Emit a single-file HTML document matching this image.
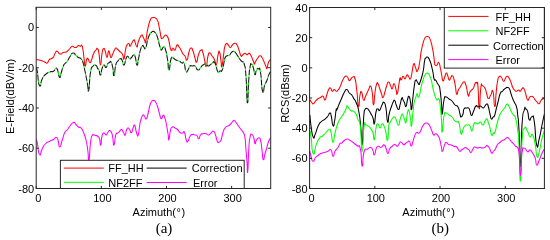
<!DOCTYPE html>
<html><head><meta charset="utf-8"><style>
html,body{margin:0;padding:0;background:#fff;width:550px;height:240px;overflow:hidden}
svg{display:block}
.ax{stroke:#262626;stroke-width:1;fill:none}
.t{font-family:"Liberation Sans",Arial,sans-serif;font-size:11px;fill:#000}
.cap{font-family:"Liberation Serif","Times New Roman",serif;font-size:15px;fill:#000}
</style></head><body>
<svg width="550" height="240" viewBox="0 0 550 240">
<path d="M36.20,59.50 C37.80,59.83 38.15,59.67 41.00,60.50 C43.85,61.33 42.67,61.17 44.75,62.00 C46.83,62.83 45.83,63.67 47.25,63.00 C48.67,62.33 47.75,61.42 49.00,60.00 C50.25,58.58 49.67,59.58 51.00,58.75 C52.33,57.92 52.00,58.42 53.00,57.50 C54.00,56.58 53.17,57.67 54.00,56.00 C54.83,54.33 54.40,54.10 55.50,52.50 C56.60,50.90 56.13,50.90 57.30,51.20 C58.47,51.50 57.77,52.47 59.00,53.40 C60.23,54.33 59.67,54.27 61.00,54.00 C62.33,53.73 61.33,53.27 63.00,52.60 C64.67,51.93 64.58,52.45 66.00,52.00 C67.42,51.55 66.00,52.33 67.25,51.25 C68.50,50.17 68.08,50.42 69.75,48.75 C71.42,47.08 70.58,46.67 72.25,46.25 C73.92,45.83 73.25,47.25 74.75,47.50 C76.25,47.75 75.50,47.67 76.75,47.00 C78.00,46.33 77.25,45.75 78.50,45.50 C79.75,45.25 79.42,46.25 80.50,46.25 C81.58,46.25 80.92,44.25 81.75,45.50 C82.58,46.75 82.17,45.17 83.00,50.00 C83.83,54.83 83.50,54.58 84.25,60.00 C85.00,65.42 84.50,66.25 85.25,66.25 C86.00,66.25 85.58,62.50 86.50,60.00 C87.42,57.50 86.92,57.92 88.00,58.75 C89.08,59.58 88.58,62.08 89.75,62.50 C90.92,62.92 90.25,62.92 91.50,60.00 C92.75,57.08 92.00,57.08 93.50,53.75 C95.00,50.42 94.67,51.67 96.00,50.00 C97.33,48.33 96.50,47.50 97.50,48.75 C98.50,50.00 98.00,48.33 99.00,53.75 C100.00,59.17 99.50,65.00 100.50,65.00 C101.50,65.00 101.00,59.17 102.00,53.75 C103.00,48.33 102.42,49.58 103.50,48.75 C104.58,47.92 104.08,48.33 105.25,51.25 C106.42,54.17 105.92,57.50 107.00,57.50 C108.08,57.50 107.58,52.50 108.50,51.25 C109.42,50.00 108.92,51.67 109.75,53.75 C110.58,55.83 110.00,57.50 111.00,57.50 C112.00,57.50 111.58,56.25 112.75,53.75 C113.92,51.25 113.42,51.92 114.50,50.00 C115.58,48.08 114.92,48.17 116.00,48.00 C117.08,47.83 116.58,48.42 117.75,49.50 C118.92,50.58 118.42,50.25 119.50,51.25 C120.58,52.25 119.92,51.25 121.00,52.50 C122.08,53.75 121.75,52.92 122.75,55.00 C123.75,57.08 123.08,60.42 124.00,58.75 C124.92,57.08 124.50,54.58 125.50,50.00 C126.50,45.42 125.83,47.08 127.00,45.00 C128.17,42.92 128.00,43.33 129.00,43.75 C130.00,44.17 129.03,46.47 130.00,46.25 C130.97,46.03 130.65,45.18 131.90,43.10 C133.15,41.02 132.72,40.40 133.75,40.00 C134.78,39.60 133.95,39.60 135.00,41.90 C136.05,44.20 135.87,46.70 136.90,46.90 C137.93,47.10 137.07,45.63 138.10,42.50 C139.13,39.37 138.73,40.00 140.00,37.50 C141.27,35.00 140.87,35.20 141.90,35.00 C142.93,34.80 142.15,35.03 143.10,36.90 C144.05,38.77 143.92,38.93 144.75,40.60 C145.58,42.27 144.88,44.18 145.60,41.90 C146.32,39.62 146.07,38.55 146.90,33.75 C147.73,28.95 147.27,31.25 148.10,27.50 C148.93,23.75 148.57,25.17 149.40,22.50 C150.23,19.83 149.98,20.97 150.60,19.50 C151.22,18.03 150.28,18.77 151.25,18.10 C152.22,17.43 152.05,17.50 153.50,17.50 C154.95,17.50 154.27,17.07 155.60,18.10 C156.93,19.13 156.45,18.30 157.50,20.60 C158.55,22.90 157.92,21.45 158.75,25.00 C159.58,28.55 159.25,27.25 160.00,31.25 C160.75,35.25 160.37,34.58 161.00,37.00 C161.63,39.42 160.98,38.53 161.90,38.50 C162.82,38.47 162.52,38.07 163.75,36.90 C164.98,35.73 164.35,35.00 165.60,35.00 C166.85,35.00 166.45,35.23 167.50,36.90 C168.55,38.57 167.58,35.63 168.75,40.00 C169.92,44.37 169.58,47.33 171.00,50.00 C172.42,52.67 171.67,48.00 173.00,48.00 C174.33,48.00 173.67,51.00 175.00,50.00 C176.33,49.00 175.67,46.00 177.00,45.00 C178.33,44.00 177.67,45.33 179.00,47.00 C180.33,48.67 179.67,47.67 181.00,50.00 C182.33,52.33 181.67,52.00 183.00,54.00 C184.33,56.00 183.67,54.00 185.00,56.00 C186.33,58.00 185.67,61.33 187.00,60.00 C188.33,58.67 187.67,56.00 189.00,52.00 C190.33,48.00 189.67,48.33 191.00,48.00 C192.33,47.67 191.67,47.67 193.00,51.00 C194.33,54.33 193.80,54.33 195.00,58.00 C196.20,61.67 195.47,63.00 196.60,62.00 C197.73,61.00 196.93,59.00 198.40,55.00 C199.87,51.00 199.47,50.67 201.00,50.00 C202.53,49.33 201.67,49.00 203.00,53.00 C204.33,57.00 203.87,57.67 205.00,62.00 C206.13,66.33 205.40,68.00 206.40,66.00 C207.40,64.00 206.80,60.33 208.00,56.00 C209.20,51.67 208.67,53.00 210.00,53.00 C211.33,53.00 210.53,53.87 212.00,56.00 C213.47,58.13 212.97,56.40 214.40,59.40 C215.83,62.40 215.07,66.57 216.30,65.00 C217.53,63.43 217.00,58.95 218.10,54.70 C219.20,50.45 218.63,50.07 219.60,52.25 C220.57,54.43 220.23,56.67 221.00,61.25 C221.77,65.83 220.98,68.50 221.90,66.00 C222.82,63.50 222.88,59.75 223.75,53.75 C224.62,47.75 223.68,51.33 224.50,48.00 C225.32,44.67 224.95,44.75 226.20,43.75 C227.45,42.75 226.88,43.75 228.25,45.00 C229.62,46.25 228.92,47.50 230.30,47.50 C231.68,47.50 230.83,46.40 232.40,45.00 C233.97,43.60 233.47,43.30 235.00,43.30 C236.53,43.30 235.67,42.77 237.00,45.00 C238.33,47.23 237.67,46.40 239.00,50.00 C240.33,53.60 239.73,54.20 241.00,55.80 C242.27,57.40 241.47,55.63 242.80,54.80 C244.13,53.97 243.60,53.30 245.00,53.30 C246.40,53.30 245.67,54.80 247.00,54.80 C248.33,54.80 247.67,52.97 249.00,53.30 C250.33,53.63 249.58,53.23 251.00,55.80 C252.42,58.37 252.08,58.27 253.25,61.00 C254.42,63.73 253.82,63.67 254.50,64.00 C255.18,64.33 254.20,64.00 255.30,62.00 C256.40,60.00 256.23,60.07 257.80,58.00 C259.37,55.93 258.60,55.97 260.00,55.80 C261.40,55.63 260.77,55.77 262.00,57.50 C263.23,59.23 262.45,58.17 263.70,61.00 C264.95,63.83 264.65,63.57 265.75,66.00 C266.85,68.43 266.17,69.30 267.00,68.30 C267.83,67.30 267.25,65.77 268.25,63.00 C269.25,60.23 269.18,61.33 270.00,60.00 C270.82,58.67 270.47,59.33 270.70,59.00" fill="none" stroke="#ff0000" stroke-width="1.05" stroke-linejoin="round"/>
<path d="M36.20,68.75 C36.55,69.58 36.15,65.67 37.25,71.25 C38.35,76.83 37.83,83.00 39.50,85.50 C41.17,88.00 40.25,82.42 42.25,78.75 C44.25,75.08 43.00,76.75 45.50,74.50 C48.00,72.25 47.08,73.10 49.75,72.00 C52.42,70.90 51.58,72.33 53.50,71.20 C55.42,70.07 54.33,69.37 55.50,68.60 C56.67,67.83 56.08,67.60 57.00,68.90 C57.92,70.20 57.38,69.63 58.25,72.50 C59.12,75.37 58.68,77.17 59.60,77.50 C60.52,77.83 59.87,77.00 61.00,73.50 C62.13,70.00 61.75,70.25 63.00,67.00 C64.25,63.75 63.33,65.67 64.75,63.75 C66.17,61.83 65.58,63.50 67.25,61.25 C68.92,59.00 67.83,59.75 69.75,57.00 C71.67,54.25 70.92,53.50 73.00,53.00 C75.08,52.50 74.17,54.00 76.00,55.50 C77.83,57.00 76.83,56.42 78.50,57.50 C80.17,58.58 79.50,57.08 81.00,58.75 C82.50,60.42 81.75,58.75 83.00,62.50 C84.25,66.25 83.33,63.33 84.75,70.00 C86.17,76.67 85.92,75.83 87.25,82.50 C88.58,89.17 87.67,93.33 88.75,90.00 C89.83,86.67 89.08,80.42 90.50,72.50 C91.92,64.58 91.17,68.58 93.00,66.25 C94.83,63.92 94.42,64.67 96.00,65.50 C97.58,66.33 96.75,67.25 97.75,68.75 C98.75,70.25 98.08,67.92 99.00,70.00 C99.92,72.08 99.50,75.42 100.50,75.00 C101.50,74.58 100.83,72.08 102.00,68.75 C103.17,65.42 102.67,65.42 104.00,65.00 C105.33,64.58 104.75,67.92 106.00,67.50 C107.25,67.08 106.58,65.42 107.75,63.75 C108.92,62.08 108.42,63.08 109.50,62.50 C110.58,61.92 109.92,60.33 111.00,62.00 C112.08,63.67 111.75,63.00 112.75,67.50 C113.75,72.00 113.00,76.33 114.00,75.50 C115.00,74.67 114.50,69.75 115.75,65.00 C117.00,60.25 116.25,63.33 117.75,61.25 C119.25,59.17 118.83,59.17 120.25,58.75 C121.67,58.33 120.75,57.92 122.00,60.00 C123.25,62.08 122.67,65.42 124.00,65.00 C125.33,64.58 124.75,61.67 126.00,58.75 C127.25,55.83 126.58,56.25 127.75,56.25 C128.92,56.25 128.25,58.33 129.50,58.75 C130.75,59.17 130.17,58.75 131.50,57.50 C132.83,56.25 132.25,55.17 133.50,55.00 C134.75,54.83 134.08,53.67 135.25,57.00 C136.42,60.33 135.92,64.42 137.00,65.00 C138.08,65.58 137.30,63.95 138.50,58.75 C139.70,53.55 139.27,53.78 140.60,49.40 C141.93,45.02 141.45,46.43 142.50,45.60 C143.55,44.77 142.72,46.07 143.75,46.90 C144.78,47.73 144.35,50.20 145.60,48.10 C146.85,46.00 146.23,44.97 147.50,40.60 C148.77,36.23 148.15,37.70 149.40,35.00 C150.65,32.30 150.02,33.70 151.25,32.50 C152.48,31.30 151.85,31.40 153.10,31.40 C154.35,31.40 153.73,31.10 155.00,32.50 C156.27,33.90 155.73,32.68 156.90,35.60 C158.07,38.52 157.67,38.12 158.50,41.25 C159.33,44.38 158.73,42.75 159.40,45.00 C160.07,47.25 159.77,46.33 160.50,48.00 C161.23,49.67 160.57,50.33 161.60,50.00 C162.63,49.67 162.27,47.00 163.60,47.00 C164.93,47.00 164.27,45.67 165.60,50.00 C166.93,54.33 166.47,53.33 167.60,60.00 C168.73,66.67 167.87,70.33 169.00,70.00 C170.13,69.67 169.67,63.00 171.00,59.00 C172.33,55.00 171.33,57.67 173.00,58.00 C174.67,58.33 174.00,59.00 176.00,60.00 C178.00,61.00 177.00,60.00 179.00,61.00 C181.00,62.00 180.33,62.33 182.00,63.00 C183.67,63.67 182.67,60.33 184.00,63.00 C185.33,65.67 184.67,68.67 186.00,71.00 C187.33,73.33 186.67,71.67 188.00,70.00 C189.33,68.33 188.53,67.33 190.00,66.00 C191.47,64.67 190.73,66.00 192.40,66.00 C194.07,66.00 193.13,64.67 195.00,66.00 C196.87,67.33 196.00,69.67 198.00,70.00 C200.00,70.33 199.33,68.67 201.00,67.00 C202.67,65.33 201.33,66.00 203.00,65.00 C204.67,64.00 204.33,63.67 206.00,64.00 C207.67,64.33 206.67,65.67 208.00,66.00 C209.33,66.33 208.53,66.00 210.00,65.00 C211.47,64.00 210.93,64.00 212.40,63.00 C213.87,62.00 213.20,61.00 214.40,62.00 C215.60,63.00 214.80,62.67 216.00,66.00 C217.20,69.33 216.67,70.33 218.00,72.00 C219.33,73.67 218.67,71.53 220.00,71.00 C221.33,70.47 220.77,72.73 222.00,70.40 C223.23,68.07 222.70,68.13 223.70,64.00 C224.70,59.87 223.83,60.73 225.00,58.00 C226.17,55.27 225.77,56.67 227.20,55.80 C228.63,54.93 227.90,56.43 229.30,55.40 C230.70,54.37 230.00,54.08 231.40,52.70 C232.80,51.32 232.13,51.25 233.50,51.25 C234.87,51.25 234.13,51.18 235.50,52.70 C236.87,54.22 236.20,53.70 237.60,55.80 C239.00,57.90 238.30,57.10 239.70,59.00 C241.10,60.90 240.30,59.83 241.80,61.50 C243.30,63.17 242.80,58.93 244.20,64.00 C245.60,69.07 244.93,63.80 246.00,76.70 C247.07,89.60 246.50,101.33 247.40,102.70 C248.30,104.07 247.83,92.60 248.70,80.80 C249.57,69.00 249.03,72.83 250.00,67.30 C250.97,61.77 250.52,64.20 251.60,64.20 C252.68,64.20 252.12,63.83 253.25,67.30 C254.38,70.77 253.95,73.57 255.00,74.60 C256.05,75.63 255.23,72.35 256.40,70.40 C257.57,68.45 257.13,68.05 258.50,68.75 C259.87,69.45 259.13,65.00 260.50,72.50 C261.87,80.00 261.20,87.08 262.60,91.25 C264.00,95.42 263.30,88.48 264.70,85.00 C266.10,81.52 265.40,84.27 266.80,80.80 C268.20,77.33 267.60,77.70 268.90,74.60 C270.20,71.50 270.10,72.53 270.70,71.50" fill="none" stroke="#00ff00" stroke-width="1.05" stroke-linejoin="round" stroke-dasharray="2.60,4.90" stroke-dashoffset="2.30"/>
<path d="M36.20,68.75 C36.55,69.58 36.15,65.67 37.25,71.25 C38.35,76.83 37.83,83.00 39.50,85.50 C41.17,88.00 40.25,82.42 42.25,78.75 C44.25,75.08 43.00,76.75 45.50,74.50 C48.00,72.25 47.08,73.10 49.75,72.00 C52.42,70.90 51.58,72.33 53.50,71.20 C55.42,70.07 54.33,69.37 55.50,68.60 C56.67,67.83 56.08,67.60 57.00,68.90 C57.92,70.20 57.38,69.63 58.25,72.50 C59.12,75.37 58.68,77.17 59.60,77.50 C60.52,77.83 59.87,77.00 61.00,73.50 C62.13,70.00 61.75,70.25 63.00,67.00 C64.25,63.75 63.33,65.67 64.75,63.75 C66.17,61.83 65.58,63.50 67.25,61.25 C68.92,59.00 67.83,59.75 69.75,57.00 C71.67,54.25 70.92,53.50 73.00,53.00 C75.08,52.50 74.17,54.00 76.00,55.50 C77.83,57.00 76.83,56.42 78.50,57.50 C80.17,58.58 79.50,57.08 81.00,58.75 C82.50,60.42 81.75,58.75 83.00,62.50 C84.25,66.25 83.33,63.33 84.75,70.00 C86.17,76.67 85.92,75.83 87.25,82.50 C88.58,89.17 87.67,93.33 88.75,90.00 C89.83,86.67 89.08,80.42 90.50,72.50 C91.92,64.58 91.17,68.58 93.00,66.25 C94.83,63.92 94.42,64.67 96.00,65.50 C97.58,66.33 96.75,67.25 97.75,68.75 C98.75,70.25 98.08,67.92 99.00,70.00 C99.92,72.08 99.50,75.42 100.50,75.00 C101.50,74.58 100.83,72.08 102.00,68.75 C103.17,65.42 102.67,65.42 104.00,65.00 C105.33,64.58 104.75,67.92 106.00,67.50 C107.25,67.08 106.58,65.42 107.75,63.75 C108.92,62.08 108.42,63.08 109.50,62.50 C110.58,61.92 109.92,60.33 111.00,62.00 C112.08,63.67 111.75,63.00 112.75,67.50 C113.75,72.00 113.00,76.33 114.00,75.50 C115.00,74.67 114.50,69.75 115.75,65.00 C117.00,60.25 116.25,63.33 117.75,61.25 C119.25,59.17 118.83,59.17 120.25,58.75 C121.67,58.33 120.75,57.92 122.00,60.00 C123.25,62.08 122.67,65.42 124.00,65.00 C125.33,64.58 124.75,61.67 126.00,58.75 C127.25,55.83 126.58,56.25 127.75,56.25 C128.92,56.25 128.25,58.33 129.50,58.75 C130.75,59.17 130.17,58.75 131.50,57.50 C132.83,56.25 132.25,55.17 133.50,55.00 C134.75,54.83 134.08,53.67 135.25,57.00 C136.42,60.33 135.92,64.42 137.00,65.00 C138.08,65.58 137.30,63.95 138.50,58.75 C139.70,53.55 139.27,53.78 140.60,49.40 C141.93,45.02 141.45,46.43 142.50,45.60 C143.55,44.77 142.72,46.07 143.75,46.90 C144.78,47.73 144.35,50.20 145.60,48.10 C146.85,46.00 146.23,44.97 147.50,40.60 C148.77,36.23 148.15,37.70 149.40,35.00 C150.65,32.30 150.02,33.70 151.25,32.50 C152.48,31.30 151.85,31.40 153.10,31.40 C154.35,31.40 153.73,31.10 155.00,32.50 C156.27,33.90 155.73,32.68 156.90,35.60 C158.07,38.52 157.67,38.12 158.50,41.25 C159.33,44.38 158.73,42.75 159.40,45.00 C160.07,47.25 159.77,46.33 160.50,48.00 C161.23,49.67 160.57,50.33 161.60,50.00 C162.63,49.67 162.27,47.00 163.60,47.00 C164.93,47.00 164.27,45.67 165.60,50.00 C166.93,54.33 166.47,53.33 167.60,60.00 C168.73,66.67 167.87,70.33 169.00,70.00 C170.13,69.67 169.67,63.00 171.00,59.00 C172.33,55.00 171.33,57.67 173.00,58.00 C174.67,58.33 174.00,59.00 176.00,60.00 C178.00,61.00 177.00,60.00 179.00,61.00 C181.00,62.00 180.33,62.33 182.00,63.00 C183.67,63.67 182.67,60.33 184.00,63.00 C185.33,65.67 184.67,68.67 186.00,71.00 C187.33,73.33 186.67,71.67 188.00,70.00 C189.33,68.33 188.53,67.33 190.00,66.00 C191.47,64.67 190.73,66.00 192.40,66.00 C194.07,66.00 193.13,64.67 195.00,66.00 C196.87,67.33 196.00,69.67 198.00,70.00 C200.00,70.33 199.33,68.67 201.00,67.00 C202.67,65.33 201.33,66.00 203.00,65.00 C204.67,64.00 204.33,63.67 206.00,64.00 C207.67,64.33 206.67,65.67 208.00,66.00 C209.33,66.33 208.53,66.00 210.00,65.00 C211.47,64.00 210.93,64.00 212.40,63.00 C213.87,62.00 213.20,61.00 214.40,62.00 C215.60,63.00 214.80,62.67 216.00,66.00 C217.20,69.33 216.67,70.33 218.00,72.00 C219.33,73.67 218.67,71.53 220.00,71.00 C221.33,70.47 220.77,72.73 222.00,70.40 C223.23,68.07 222.70,68.13 223.70,64.00 C224.70,59.87 223.83,60.73 225.00,58.00 C226.17,55.27 225.77,56.67 227.20,55.80 C228.63,54.93 227.90,56.43 229.30,55.40 C230.70,54.37 230.00,54.08 231.40,52.70 C232.80,51.32 232.13,51.25 233.50,51.25 C234.87,51.25 234.13,51.18 235.50,52.70 C236.87,54.22 236.20,53.70 237.60,55.80 C239.00,57.90 238.30,57.10 239.70,59.00 C241.10,60.90 240.30,59.83 241.80,61.50 C243.30,63.17 242.80,58.93 244.20,64.00 C245.60,69.07 244.93,63.80 246.00,76.70 C247.07,89.60 246.50,101.33 247.40,102.70 C248.30,104.07 247.83,92.60 248.70,80.80 C249.57,69.00 249.03,72.83 250.00,67.30 C250.97,61.77 250.52,64.20 251.60,64.20 C252.68,64.20 252.12,63.83 253.25,67.30 C254.38,70.77 253.95,73.57 255.00,74.60 C256.05,75.63 255.23,72.35 256.40,70.40 C257.57,68.45 257.13,68.05 258.50,68.75 C259.87,69.45 259.13,65.00 260.50,72.50 C261.87,80.00 261.20,87.08 262.60,91.25 C264.00,95.42 263.30,88.48 264.70,85.00 C266.10,81.52 265.40,84.27 266.80,80.80 C268.20,77.33 267.60,77.70 268.90,74.60 C270.20,71.50 270.10,72.53 270.70,71.50" fill="none" stroke="#1a1a1a" stroke-width="1.1" stroke-linejoin="round" stroke-dasharray="5.5,2.0"/>
<path d="M36.20,140.00 C36.55,140.83 36.15,137.67 37.25,142.50 C38.35,147.33 37.83,152.42 39.50,154.50 C41.17,156.58 40.25,152.33 42.25,148.75 C44.25,145.17 43.00,146.25 45.50,143.75 C48.00,141.25 47.08,142.67 49.75,141.25 C52.42,139.83 51.42,140.75 53.50,139.50 C55.58,138.25 54.50,137.33 56.00,137.50 C57.50,137.67 56.75,136.83 58.00,140.00 C59.25,143.17 58.33,147.00 59.75,147.00 C61.17,147.00 60.58,144.83 62.25,140.00 C63.92,135.17 63.08,135.83 64.75,132.50 C66.42,129.17 65.58,132.08 67.25,130.00 C68.92,127.92 67.67,128.75 69.75,126.25 C71.83,123.75 71.42,123.08 73.50,122.50 C75.58,121.92 74.33,123.00 76.00,124.50 C77.67,126.00 76.83,125.83 78.50,127.00 C80.17,128.17 79.33,126.17 81.00,128.00 C82.67,129.83 81.83,128.50 83.50,132.50 C85.17,136.50 84.58,134.17 86.00,140.00 C87.42,145.83 86.75,143.33 87.75,150.00 C88.75,156.67 88.08,162.50 89.00,160.00 C89.92,157.50 89.42,150.67 90.50,142.50 C91.58,134.33 91.08,138.00 92.25,135.50 C93.42,133.00 92.75,135.00 94.00,135.00 C95.25,135.00 94.75,135.08 96.00,135.50 C97.25,135.92 96.58,135.17 97.75,136.25 C98.92,137.33 98.50,135.83 99.50,138.75 C100.50,141.67 99.92,145.83 100.75,145.00 C101.58,144.17 100.92,140.25 102.00,136.25 C103.08,132.25 102.67,133.42 104.00,133.00 C105.33,132.58 104.75,135.17 106.00,135.00 C107.25,134.83 106.58,134.00 107.75,132.50 C108.92,131.00 108.25,130.50 109.50,130.50 C110.75,130.50 110.42,130.17 111.50,132.50 C112.58,134.83 111.92,133.33 112.75,137.50 C113.58,141.67 113.00,145.83 114.00,145.00 C115.00,144.17 114.50,139.00 115.75,135.00 C117.00,131.00 116.42,134.25 117.75,133.00 C119.08,131.75 118.50,132.42 119.75,131.25 C121.00,130.08 120.25,129.08 121.50,129.50 C122.75,129.92 122.25,130.67 123.50,132.50 C124.75,134.33 124.25,135.83 125.25,135.00 C126.25,134.17 125.50,132.33 126.50,130.00 C127.50,127.67 127.17,128.00 128.25,128.00 C129.33,128.00 128.67,128.50 129.75,130.00 C130.83,131.50 130.33,133.33 131.50,132.50 C132.67,131.67 132.17,129.83 133.25,127.50 C134.33,125.17 133.67,123.83 134.75,125.50 C135.83,127.17 135.33,129.33 136.50,132.50 C137.67,135.67 137.17,137.50 138.25,135.00 C139.33,132.50 138.75,130.42 139.75,125.00 C140.75,119.58 140.17,122.08 141.25,118.75 C142.33,115.42 141.92,115.83 143.00,115.00 C144.08,114.17 143.42,115.00 144.50,116.25 C145.58,117.50 145.08,119.58 146.25,118.75 C147.42,117.92 146.75,118.33 148.00,113.75 C149.25,109.17 148.67,109.17 150.00,105.00 C151.33,100.83 150.75,102.75 152.00,101.25 C153.25,99.75 152.58,100.25 153.75,100.50 C154.92,100.75 154.25,100.08 155.50,102.00 C156.75,103.92 156.17,102.33 157.50,106.25 C158.83,110.17 158.25,109.58 159.50,113.75 C160.75,117.92 160.08,118.17 161.25,118.75 C162.42,119.33 161.92,116.08 163.00,115.50 C164.08,114.92 163.42,114.25 164.50,117.00 C165.58,119.75 165.08,118.17 166.25,123.75 C167.42,129.33 167.08,128.50 168.00,133.75 C168.92,139.00 168.17,140.75 169.00,139.50 C169.83,138.25 169.33,134.17 170.50,130.00 C171.67,125.83 171.00,127.67 172.50,127.00 C174.00,126.33 173.33,127.17 175.00,128.00 C176.67,128.83 175.83,128.00 177.50,129.50 C179.17,131.00 178.33,131.33 180.00,132.50 C181.67,133.67 181.00,133.00 182.50,133.00 C184.00,133.00 183.25,130.17 184.50,132.50 C185.75,134.83 185.08,137.08 186.25,140.00 C187.42,142.92 186.75,142.50 188.00,141.25 C189.25,140.00 188.50,138.50 190.00,136.25 C191.50,134.00 190.83,134.92 192.50,134.50 C194.17,134.08 193.50,134.67 195.00,135.00 C196.50,135.33 195.75,134.25 197.00,135.50 C198.25,136.75 197.58,138.92 198.75,138.75 C199.92,138.58 199.08,136.67 200.50,135.00 C201.92,133.33 201.17,134.17 203.00,133.75 C204.83,133.33 204.17,133.33 206.00,133.75 C207.83,134.17 206.83,135.25 208.50,135.00 C210.17,134.75 209.33,134.25 211.00,133.00 C212.67,131.75 212.00,130.58 213.50,131.25 C215.00,131.92 214.25,131.67 215.50,135.00 C216.75,138.33 216.08,138.92 217.25,141.25 C218.42,143.58 217.75,142.42 219.00,142.00 C220.25,141.58 219.67,143.17 221.00,140.00 C222.33,136.83 221.67,136.50 223.00,132.50 C224.33,128.50 223.58,130.08 225.00,128.00 C226.42,125.92 225.67,127.25 227.25,126.25 C228.83,125.25 228.08,126.42 229.75,125.00 C231.42,123.58 230.83,123.50 232.25,122.00 C233.67,120.50 232.75,120.33 234.00,120.50 C235.25,120.67 234.50,120.67 236.00,122.50 C237.50,124.33 236.83,123.67 238.50,126.00 C240.17,128.33 239.33,127.17 241.00,129.50 C242.67,131.83 242.17,130.17 243.50,133.00 C244.83,135.83 244.17,132.33 245.00,138.00 C245.83,143.67 245.33,142.00 246.00,150.00 C246.67,158.00 246.42,154.92 247.00,162.00 C247.58,169.08 247.17,175.25 247.75,171.25 C248.33,167.25 248.00,161.25 248.75,150.00 C249.50,138.75 248.92,142.67 250.00,137.50 C251.08,132.33 250.67,134.08 252.00,134.50 C253.33,134.92 253.00,135.67 254.00,138.75 C255.00,141.83 254.17,143.33 255.00,143.75 C255.83,144.17 255.17,141.92 256.50,140.00 C257.83,138.08 257.58,137.58 259.00,138.00 C260.42,138.42 259.75,137.25 260.75,141.25 C261.75,145.25 261.17,143.92 262.00,150.00 C262.83,156.08 262.25,158.25 263.25,159.50 C264.25,160.75 263.92,157.33 265.00,153.75 C266.08,150.17 265.42,152.50 266.50,148.75 C267.58,145.00 267.08,145.83 268.25,142.50 C269.42,139.17 269.18,140.25 270.00,138.75 C270.82,137.25 270.47,138.25 270.70,138.00" fill="none" stroke="#ff00ff" stroke-width="1.05" stroke-linejoin="round"/>
<path d="M309.90,99.50 C310.52,100.50 310.55,101.08 311.75,102.50 C312.95,103.92 312.25,104.17 313.50,103.75 C314.75,103.33 314.00,102.92 315.50,101.25 C317.00,99.58 316.33,100.00 318.00,98.75 C319.67,97.50 318.83,98.33 320.50,97.50 C322.17,96.67 321.50,95.42 323.00,96.25 C324.50,97.08 323.75,100.42 325.00,100.00 C326.25,99.58 325.58,98.33 326.75,95.00 C327.92,91.67 327.25,92.33 328.50,90.00 C329.75,87.67 329.25,87.58 330.50,88.00 C331.75,88.42 331.00,90.75 332.25,91.25 C333.50,91.75 332.92,89.50 334.25,89.50 C335.58,89.50 335.00,91.08 336.25,91.25 C337.50,91.42 336.75,91.42 338.00,90.00 C339.25,88.58 338.75,89.50 340.00,87.00 C341.25,84.50 340.58,85.25 341.75,82.50 C342.92,79.75 342.25,80.83 343.50,78.75 C344.75,76.67 344.17,76.83 345.50,76.25 C346.83,75.67 346.25,75.58 347.50,77.00 C348.75,78.42 348.08,79.92 349.25,80.50 C350.42,81.08 349.75,79.92 351.00,78.75 C352.25,77.58 351.67,77.00 353.00,77.00 C354.33,77.00 353.75,74.42 355.00,78.75 C356.25,83.08 355.58,80.83 356.75,90.00 C357.92,99.17 357.42,104.58 358.50,106.25 C359.58,107.92 358.92,99.58 360.00,95.00 C361.08,90.42 360.58,90.83 361.75,92.50 C362.92,94.17 362.25,98.75 363.50,100.00 C364.75,101.25 364.25,98.75 365.50,96.25 C366.75,93.75 366.08,95.00 367.25,92.50 C368.42,90.00 367.92,90.83 369.00,88.75 C370.08,86.67 369.42,85.00 370.50,86.25 C371.58,87.50 371.25,86.25 372.25,92.50 C373.25,98.75 372.58,105.00 373.50,105.00 C374.42,105.00 374.00,99.33 375.00,92.50 C376.00,85.67 375.50,87.42 376.50,84.50 C377.50,81.58 376.92,82.33 378.00,83.75 C379.08,85.17 378.58,85.42 379.75,88.75 C380.92,92.08 380.42,90.83 381.50,93.75 C382.58,96.67 381.92,97.92 383.00,97.50 C384.08,97.08 383.58,96.25 384.75,92.50 C385.92,88.75 385.25,89.75 386.50,86.25 C387.75,82.75 387.17,82.25 388.50,82.00 C389.83,81.75 389.25,83.25 390.50,85.50 C391.75,87.75 391.08,89.33 392.25,88.75 C393.42,88.17 392.75,83.50 394.00,83.75 C395.25,84.00 394.92,86.17 396.00,89.50 C397.08,92.83 396.25,95.67 397.25,93.75 C398.25,91.83 398.08,89.00 399.00,83.75 C399.92,78.50 399.25,79.25 400.00,78.00 C400.75,76.75 400.25,80.58 401.25,80.00 C402.25,79.42 401.75,76.67 403.00,76.25 C404.25,75.83 403.67,79.17 405.00,78.75 C406.33,78.33 405.75,75.58 407.00,75.00 C408.25,74.42 407.58,75.75 408.75,77.00 C409.92,78.25 409.42,80.25 410.50,78.75 C411.58,77.25 410.92,77.42 412.00,72.50 C413.08,67.58 412.58,65.67 413.75,64.00 C414.92,62.33 414.25,65.17 415.50,67.50 C416.75,69.83 416.10,72.83 417.50,71.00 C418.90,69.17 418.57,67.90 419.70,62.00 C420.83,56.10 420.13,58.13 420.90,53.30 C421.67,48.47 421.27,50.90 422.00,47.50 C422.73,44.10 422.23,46.07 423.10,43.10 C423.97,40.13 423.63,40.67 424.60,38.60 C425.57,36.53 425.13,37.60 426.00,36.90 C426.87,36.20 426.37,36.50 427.20,36.50 C428.03,36.50 427.60,36.20 428.50,36.90 C429.40,37.60 428.97,36.53 429.90,38.60 C430.83,40.67 430.50,40.13 431.30,43.10 C432.10,46.07 431.60,44.10 432.30,47.50 C433.00,50.90 432.67,48.47 433.40,53.30 C434.13,58.13 433.93,58.10 434.50,62.00 C435.07,65.90 434.27,64.00 435.10,65.00 C435.93,66.00 435.78,65.83 437.00,65.00 C438.22,64.17 437.58,61.25 438.75,62.50 C439.92,63.75 439.52,64.58 440.50,68.75 C441.48,72.92 440.87,70.98 441.70,75.00 C442.53,79.02 442.00,80.13 443.00,80.80 C444.00,81.47 443.60,79.60 444.70,77.00 C445.80,74.40 445.27,73.33 446.30,73.00 C447.33,72.67 446.83,73.67 447.80,76.00 C448.77,78.33 448.20,79.50 449.20,80.00 C450.20,80.50 449.70,78.90 450.80,77.50 C451.90,76.10 451.37,74.97 452.50,75.80 C453.63,76.63 453.20,76.27 454.20,80.00 C455.20,83.73 454.67,82.27 455.50,87.00 C456.33,91.73 455.77,93.20 456.70,94.20 C457.63,95.20 457.20,92.23 458.30,90.00 C459.40,87.77 458.77,89.50 460.00,87.50 C461.23,85.50 460.60,85.93 462.00,84.00 C463.40,82.07 463.03,81.70 464.20,81.70 C465.37,81.70 464.67,81.80 465.50,84.00 C466.33,86.20 465.77,84.37 466.70,88.30 C467.63,92.23 467.37,94.23 468.30,95.80 C469.23,97.37 468.67,94.67 469.50,93.00 C470.33,91.33 469.53,92.37 470.80,90.80 C472.07,89.23 472.07,90.23 473.30,88.30 C474.53,86.37 473.67,86.93 474.50,85.00 C475.33,83.07 474.97,83.00 475.80,82.50 C476.63,82.00 476.27,82.10 477.00,83.50 C477.73,84.90 477.25,78.28 478.00,86.70 C478.75,95.12 478.32,108.32 479.25,108.75 C480.18,109.18 479.72,95.65 480.80,88.00 C481.88,80.35 481.10,85.70 482.50,85.80 C483.90,85.90 483.67,85.90 485.00,88.30 C486.33,90.70 485.40,89.67 486.50,93.00 C487.60,96.33 486.87,97.63 488.30,98.30 C489.73,98.97 489.23,97.20 490.80,95.00 C492.37,92.80 491.67,87.87 493.00,91.70 C494.33,95.53 493.73,106.40 494.80,106.50 C495.87,106.60 495.30,100.27 496.20,92.00 C497.10,83.73 496.50,86.80 497.50,81.70 C498.50,76.60 497.87,78.10 499.20,76.70 C500.53,75.30 500.07,75.98 501.50,77.50 C502.93,79.02 502.25,80.83 503.50,81.25 C504.75,81.67 504.08,80.42 505.25,78.75 C506.42,77.08 505.75,76.50 507.00,76.25 C508.25,76.00 507.67,75.92 509.00,78.00 C510.33,80.08 509.75,79.33 511.00,82.50 C512.25,85.67 511.58,85.00 512.75,87.50 C513.92,90.00 513.25,88.75 514.50,90.00 C515.75,91.25 515.17,91.25 516.50,91.25 C517.83,91.25 517.25,90.00 518.50,90.00 C519.75,90.00 519.08,91.67 520.25,91.25 C521.42,90.83 520.75,89.58 522.00,88.75 C523.25,87.92 522.67,86.67 524.00,88.75 C525.33,90.83 524.75,91.25 526.00,95.00 C527.25,98.75 526.58,99.17 527.75,100.00 C528.92,100.83 528.25,98.75 529.50,97.50 C530.75,96.25 530.17,96.25 531.50,96.25 C532.83,96.25 532.25,96.25 533.50,97.50 C534.75,98.75 534.08,98.50 535.25,100.00 C536.42,101.50 535.75,100.75 537.00,102.00 C538.25,103.25 537.83,104.00 539.00,103.75 C540.17,103.50 539.50,102.67 540.50,101.25 C541.50,99.83 540.70,100.75 542.00,99.50 C543.30,98.25 543.60,98.17 544.40,97.50" fill="none" stroke="#ff0000" stroke-width="1.05" stroke-linejoin="round"/>
<path d="M309.90,115.00 C310.30,118.90 310.00,119.37 311.10,126.70 C312.20,134.03 311.80,134.57 313.20,137.00 C314.60,139.43 313.57,137.80 315.30,134.00 C317.03,130.20 316.33,129.77 318.40,125.60 C320.47,121.43 319.40,123.57 321.50,121.50 C323.60,119.43 322.60,121.15 324.70,119.40 C326.80,117.65 326.07,118.35 327.80,116.25 C329.53,114.15 328.73,113.10 329.90,113.10 C331.07,113.10 330.27,112.08 331.30,116.25 C332.33,120.42 331.87,124.22 333.00,125.60 C334.13,126.98 333.67,125.60 334.70,120.40 C335.73,115.20 335.42,113.47 336.10,110.00 C336.78,106.53 335.70,112.08 336.75,110.00 C337.80,107.92 337.58,107.75 339.25,103.75 C340.92,99.75 340.08,101.75 341.75,98.00 C343.42,94.25 342.58,95.33 344.25,92.50 C345.92,89.67 345.08,89.33 346.75,89.50 C348.42,89.67 347.58,91.17 349.25,93.00 C350.92,94.83 350.17,93.00 351.75,95.00 C353.33,97.00 352.58,96.57 354.00,99.00 C355.42,101.43 354.33,97.80 356.00,102.30 C357.67,106.80 357.33,103.27 359.00,112.50 C360.67,121.73 359.93,119.30 361.00,130.00 C362.07,140.70 361.43,146.53 362.20,144.60 C362.97,142.67 362.70,134.40 363.30,124.20 C363.90,114.00 363.43,118.90 364.00,114.00 C364.57,109.10 364.00,111.33 365.00,109.50 C366.00,107.67 365.67,108.17 367.00,108.50 C368.33,108.83 367.67,108.67 369.00,110.50 C370.33,112.33 369.67,111.50 371.00,114.00 C372.33,116.50 371.87,114.83 373.00,118.00 C374.13,121.17 373.40,125.50 374.40,123.50 C375.40,121.50 374.80,116.83 376.00,112.00 C377.20,107.17 376.80,109.50 378.00,109.00 C379.20,108.50 378.27,111.83 379.60,110.50 C380.93,109.17 380.53,107.67 382.00,105.00 C383.47,102.33 382.67,101.33 384.00,102.50 C385.33,103.67 384.80,102.00 386.00,108.50 C387.20,115.00 386.52,120.33 387.60,122.00 C388.68,123.67 387.87,118.92 389.25,113.50 C390.63,108.08 390.42,109.58 391.75,105.75 C393.08,101.92 392.25,103.75 393.25,102.00 C394.25,100.25 393.75,99.50 394.75,100.50 C395.75,101.50 395.00,102.00 396.25,105.00 C397.50,108.00 397.25,109.50 398.50,109.50 C399.75,109.50 398.90,108.75 400.00,105.00 C401.10,101.25 400.80,100.00 401.80,98.25 C402.80,96.50 402.10,98.25 403.00,99.75 C403.90,101.25 403.50,100.50 404.50,102.75 C405.50,105.00 405.00,107.50 406.00,106.50 C407.00,105.50 406.50,103.08 407.50,99.75 C408.50,96.42 408.00,95.75 409.00,96.50 C410.00,97.25 409.67,97.67 410.50,102.00 C411.33,106.33 410.75,110.50 411.50,109.50 C412.25,108.50 411.78,107.03 412.75,99.00 C413.72,90.97 413.38,91.67 414.40,85.40 C415.42,79.13 414.77,81.23 415.80,80.20 C416.83,79.17 416.43,80.90 417.50,82.30 C418.57,83.70 418.17,84.40 419.00,84.40 C419.83,84.40 419.10,84.77 420.00,82.30 C420.90,79.83 420.57,81.10 421.70,77.00 C422.83,72.90 422.43,75.40 423.40,70.00 C424.37,64.60 423.77,64.80 424.60,60.80 C425.43,56.80 425.03,59.27 425.90,58.00 C426.77,56.73 426.33,57.00 427.20,57.00 C428.07,57.00 427.60,56.73 428.50,58.00 C429.40,59.27 429.03,58.73 429.90,60.80 C430.77,62.87 430.40,61.80 431.10,64.20 C431.80,66.60 431.37,65.23 432.00,68.00 C432.63,70.77 432.27,68.77 433.00,72.50 C433.73,76.23 433.27,76.63 434.20,79.20 C435.13,81.77 434.77,78.83 435.80,80.20 C436.83,81.57 436.32,81.57 437.30,83.30 C438.28,85.03 437.85,83.30 438.75,85.40 C439.65,87.50 439.08,83.40 440.00,89.60 C440.92,95.80 440.77,95.87 441.50,104.00 C442.23,112.13 441.37,115.33 442.20,114.00 C443.03,112.67 442.73,105.67 444.00,100.00 C445.27,94.33 444.33,97.33 446.00,97.00 C447.67,96.67 447.00,97.67 449.00,99.00 C451.00,100.33 450.00,99.00 452.00,101.00 C454.00,103.00 453.00,103.00 455.00,105.00 C457.00,107.00 456.33,104.00 458.00,107.00 C459.67,110.00 459.00,110.67 460.00,114.00 C461.00,117.33 460.00,117.00 461.00,117.00 C462.00,117.00 462.00,116.67 463.00,114.00 C464.00,111.33 462.67,111.00 464.00,109.00 C465.33,107.00 465.33,108.17 467.00,108.00 C468.67,107.83 468.00,107.50 469.00,108.50 C470.00,109.50 469.13,108.67 470.00,111.00 C470.87,113.33 470.40,115.50 471.60,115.50 C472.80,115.50 472.13,114.17 473.60,111.00 C475.07,107.83 474.53,107.33 476.00,106.00 C477.47,104.67 476.53,107.00 478.00,107.00 C479.47,107.00 478.73,105.67 480.40,106.00 C482.07,106.33 481.47,108.00 483.00,108.00 C484.53,108.00 483.67,107.33 485.00,106.00 C486.33,104.67 485.87,103.67 487.00,104.00 C488.13,104.33 487.40,103.67 488.40,107.00 C489.40,110.33 489.00,110.00 490.00,114.00 C491.00,118.00 490.40,118.00 491.40,119.00 C492.40,120.00 492.00,118.00 493.00,117.00 C494.00,116.00 493.40,118.33 494.40,116.00 C495.40,113.67 494.80,114.67 496.00,110.00 C497.20,105.33 496.58,107.50 498.00,102.00 C499.42,96.50 498.83,97.00 500.25,93.50 C501.67,90.00 501.00,92.83 502.25,91.50 C503.50,90.17 502.75,90.67 504.00,89.50 C505.25,88.33 504.83,88.67 506.00,88.00 C507.17,87.33 506.33,87.17 507.50,87.50 C508.67,87.83 508.33,86.92 509.50,89.00 C510.67,91.08 509.92,90.50 511.00,93.75 C512.08,97.00 511.58,95.83 512.75,98.75 C513.92,101.67 513.25,99.75 514.50,102.50 C515.75,105.25 515.43,102.83 516.50,107.00 C517.57,111.17 516.87,107.33 517.70,115.00 C518.53,122.67 518.07,112.83 519.00,130.00 C519.93,147.17 519.50,168.17 520.50,166.50 C521.50,164.83 520.73,143.83 522.00,125.00 C523.27,106.17 523.07,115.33 524.30,110.00 C525.53,104.67 524.57,108.43 525.70,109.00 C526.83,109.57 526.50,108.03 527.70,111.70 C528.90,115.37 527.87,118.33 529.30,120.00 C530.73,121.67 530.33,116.13 532.00,116.70 C533.67,117.27 532.73,112.27 534.30,121.70 C535.87,131.13 535.03,139.47 536.70,145.00 C538.37,150.53 537.53,144.97 539.30,138.30 C541.07,131.63 540.30,133.10 542.00,125.00 C543.70,116.90 543.60,117.67 544.40,114.00" fill="none" stroke="#000000" stroke-width="1.05" stroke-linejoin="round"/>
<path d="M309.90,130.50 C310.33,133.00 310.10,130.25 311.20,138.00 C312.30,145.75 311.50,151.62 313.20,153.75 C314.90,155.88 314.20,149.62 316.30,144.40 C318.40,139.18 317.40,140.90 319.50,138.10 C321.60,135.30 320.53,137.70 322.60,136.00 C324.67,134.30 323.63,135.07 325.70,133.00 C327.77,130.93 327.07,130.17 328.80,129.80 C330.53,129.43 329.50,127.73 330.90,131.90 C332.30,136.07 331.63,141.93 333.00,142.30 C334.37,142.67 333.27,139.60 335.00,133.00 C336.73,126.40 336.10,127.73 338.20,122.50 C340.30,117.27 339.20,120.80 341.30,117.30 C343.40,113.80 342.77,115.27 344.50,112.00 C346.23,108.73 345.57,109.50 346.50,107.50 C347.43,105.50 346.38,105.50 347.30,106.00 C348.22,106.50 347.85,107.33 349.25,109.00 C350.65,110.67 350.25,110.33 351.50,111.00 C352.75,111.67 351.50,110.00 353.00,111.00 C354.50,112.00 354.33,111.07 356.00,114.00 C357.67,116.93 356.53,115.47 358.00,119.80 C359.47,124.13 359.03,116.27 360.40,127.00 C361.77,137.73 360.90,152.00 362.10,152.00 C363.30,152.00 362.70,136.00 364.00,127.00 C365.30,118.00 364.67,125.33 366.00,125.00 C367.33,124.67 366.83,125.33 368.00,126.00 C369.17,126.67 368.50,126.00 369.50,127.00 C370.50,128.00 369.83,127.00 371.00,129.00 C372.17,131.00 371.87,129.50 373.00,133.00 C374.13,136.50 373.40,141.17 374.40,139.50 C375.40,137.83 374.80,133.17 376.00,128.00 C377.20,122.83 376.67,124.00 378.00,124.00 C379.33,124.00 378.67,128.00 380.00,128.00 C381.33,128.00 380.67,124.67 382.00,124.00 C383.33,123.33 382.80,123.67 384.00,126.00 C385.20,128.33 384.40,126.33 385.60,131.00 C386.80,135.67 386.55,141.67 387.60,140.00 C388.65,138.33 387.87,131.92 388.75,126.00 C389.63,120.08 389.00,124.75 390.25,122.25 C391.50,119.75 391.00,120.25 392.50,118.50 C394.00,116.75 393.50,116.50 394.75,117.00 C396.00,117.50 395.00,117.25 396.25,120.00 C397.50,122.75 397.25,125.25 398.50,125.25 C399.75,125.25 398.90,123.50 400.00,120.00 C401.10,116.50 400.80,116.25 401.80,114.75 C402.80,113.25 402.10,114.00 403.00,115.50 C403.90,117.00 403.50,117.00 404.50,119.25 C405.50,121.50 405.00,124.50 406.00,122.25 C407.00,120.00 406.50,116.25 407.50,112.50 C408.50,108.75 408.00,109.00 409.00,111.00 C410.00,113.00 409.67,113.50 410.50,118.50 C411.33,123.50 410.75,127.50 411.50,126.00 C412.25,124.50 411.83,122.00 412.75,114.00 C413.67,106.00 413.25,107.50 414.25,102.00 C415.25,96.50 414.80,100.25 415.75,97.50 C416.70,94.75 416.32,93.95 417.10,93.75 C417.88,93.55 417.27,96.55 418.10,96.90 C418.93,97.25 418.55,98.27 419.60,94.80 C420.65,91.33 420.02,91.70 421.25,86.50 C422.48,81.30 422.05,83.03 423.30,79.20 C424.55,75.37 423.77,76.98 425.00,75.00 C426.23,73.02 425.67,73.42 427.00,73.25 C428.33,73.08 427.58,72.25 429.00,74.50 C430.42,76.75 430.25,77.07 431.25,80.00 C432.25,82.93 431.17,79.40 432.00,83.30 C432.83,87.20 432.48,86.83 433.75,91.70 C435.02,96.57 434.62,95.13 435.80,97.90 C436.98,100.67 436.32,99.63 437.30,100.00 C438.28,100.37 437.85,97.60 438.75,99.00 C439.65,100.40 439.08,97.20 440.00,104.20 C440.92,111.20 440.77,110.73 441.50,120.00 C442.23,129.27 441.37,133.33 442.20,132.00 C443.03,130.67 442.73,122.33 444.00,116.00 C445.27,109.67 444.33,113.33 446.00,113.00 C447.67,112.67 447.00,113.67 449.00,115.00 C451.00,116.33 450.00,115.00 452.00,117.00 C454.00,119.00 453.33,119.33 455.00,121.00 C456.67,122.67 455.67,121.33 457.00,122.00 C458.33,122.67 457.80,119.67 459.00,123.00 C460.20,126.33 459.60,128.67 460.60,132.00 C461.60,135.33 460.87,134.67 462.00,133.00 C463.13,131.33 462.33,129.67 464.00,127.00 C465.67,124.33 465.00,125.33 467.00,125.00 C469.00,124.67 468.33,124.00 470.00,126.00 C471.67,128.00 470.67,131.67 472.00,131.00 C473.33,130.33 472.67,126.67 474.00,124.00 C475.33,121.33 474.67,123.00 476.00,123.00 C477.33,123.00 476.53,124.33 478.00,124.00 C479.47,123.67 478.73,121.67 480.40,122.00 C482.07,122.33 481.47,125.33 483.00,125.00 C484.53,124.67 483.67,123.00 485.00,121.00 C486.33,119.00 485.87,118.33 487.00,119.00 C488.13,119.67 487.40,120.00 488.40,123.00 C489.40,126.00 488.93,124.00 490.00,128.00 C491.07,132.00 490.47,133.33 491.60,135.00 C492.73,136.67 492.27,134.00 493.40,133.00 C494.53,132.00 493.80,135.00 495.00,132.00 C496.20,129.00 495.67,129.00 497.00,124.00 C498.33,119.00 497.83,120.50 499.00,117.00 C500.17,113.50 499.17,115.83 500.50,113.50 C501.83,111.17 501.42,112.17 503.00,110.00 C504.58,107.83 503.92,109.00 505.25,107.00 C506.58,105.00 505.75,104.25 507.00,104.00 C508.25,103.75 507.67,103.92 509.00,106.25 C510.33,108.58 509.50,108.08 511.00,111.00 C512.50,113.92 512.00,112.67 513.50,115.00 C515.00,117.33 514.10,113.00 515.50,118.00 C516.90,123.00 516.53,121.00 517.70,130.00 C518.87,139.00 518.07,128.00 519.00,145.00 C519.93,162.00 519.50,182.10 520.50,181.00 C521.50,179.90 520.73,159.27 522.00,141.70 C523.27,124.13 522.40,131.63 524.30,128.30 C526.20,124.97 525.80,128.90 527.70,131.70 C529.60,134.50 528.33,135.60 530.00,136.70 C531.67,137.80 530.93,132.23 532.70,135.00 C534.47,137.77 533.87,137.77 535.30,145.00 C536.73,152.23 535.67,154.47 537.00,156.70 C538.33,158.93 537.63,157.83 539.30,151.70 C540.97,145.57 540.30,145.20 542.00,138.30 C543.70,131.40 543.60,133.43 544.40,131.00" fill="none" stroke="#00ff00" stroke-width="1.05" stroke-linejoin="round"/>
<path d="M309.90,151.00 C310.27,152.75 309.97,152.83 311.00,156.25 C312.03,159.67 311.50,160.83 313.00,161.25 C314.50,161.67 313.83,159.42 315.50,157.50 C317.17,155.58 316.33,156.75 318.00,155.50 C319.67,154.25 318.42,154.75 320.50,153.75 C322.58,152.75 321.75,153.33 324.25,152.50 C326.75,151.67 325.75,152.08 328.00,151.25 C330.25,150.42 329.33,148.33 331.00,150.00 C332.67,151.67 331.67,155.83 333.00,156.25 C334.33,156.67 333.33,154.17 335.00,151.25 C336.67,148.33 336.33,150.08 338.00,147.50 C339.67,144.92 338.75,145.00 340.00,143.50 C341.25,142.00 340.28,144.00 341.75,143.00 C343.22,142.00 342.55,141.83 344.40,140.50 C346.25,139.17 345.43,139.00 347.30,139.00 C349.17,139.00 348.27,139.50 350.00,140.50 C351.73,141.50 350.83,140.83 352.50,142.00 C354.17,143.17 353.33,142.67 355.00,144.00 C356.67,145.33 355.70,144.33 357.50,146.00 C359.30,147.67 358.83,142.33 360.40,149.00 C361.97,155.67 361.00,165.00 362.20,166.00 C363.40,167.00 362.17,157.67 364.00,152.00 C365.83,146.33 365.50,150.50 367.70,149.00 C369.90,147.50 368.93,147.17 370.60,147.50 C372.27,147.83 371.43,147.57 372.70,150.00 C373.97,152.43 373.17,155.47 374.40,154.80 C375.63,154.13 375.03,150.85 376.40,148.00 C377.77,145.15 377.13,146.42 378.50,146.25 C379.87,146.08 379.23,147.42 380.50,147.50 C381.77,147.58 381.03,147.33 382.30,146.50 C383.57,145.67 382.97,144.17 384.30,145.00 C385.63,145.83 385.10,146.17 386.30,149.00 C387.50,151.83 386.77,153.58 387.90,153.50 C389.03,153.42 388.25,151.17 389.70,148.75 C391.15,146.33 390.57,147.67 392.25,146.25 C393.93,144.83 393.08,144.50 394.75,144.50 C396.42,144.50 395.83,146.50 397.25,146.25 C398.67,146.00 397.75,145.17 399.00,143.75 C400.25,142.33 399.50,141.75 401.00,142.00 C402.50,142.25 402.00,144.00 403.50,144.50 C405.00,145.00 404.17,144.33 405.50,143.50 C406.83,142.67 406.17,142.67 407.50,142.00 C408.83,141.33 408.25,140.17 409.50,141.50 C410.75,142.83 410.08,146.08 411.25,146.00 C412.42,145.92 411.75,144.92 413.00,141.25 C414.25,137.58 413.67,137.92 415.00,135.00 C416.33,132.08 415.75,133.08 417.00,132.50 C418.25,131.92 417.58,133.67 418.75,133.25 C419.92,132.83 419.25,133.50 420.50,131.25 C421.75,129.00 421.17,129.00 422.50,126.50 C423.83,124.00 423.25,124.92 424.50,123.75 C425.75,122.58 425.08,123.00 426.25,123.00 C427.42,123.00 426.75,122.67 428.00,123.75 C429.25,124.83 428.67,123.75 430.00,126.25 C431.33,128.75 430.75,128.33 432.00,131.25 C433.25,134.17 432.58,134.17 433.75,135.00 C434.92,135.83 434.25,133.75 435.50,133.75 C436.75,133.75 436.17,133.33 437.50,135.00 C438.83,136.67 438.25,135.00 439.50,138.75 C440.75,142.50 440.25,142.08 441.25,146.25 C442.25,150.42 441.42,151.67 442.50,151.25 C443.58,150.83 443.25,147.92 444.50,145.00 C445.75,142.08 444.83,142.67 446.25,142.50 C447.67,142.33 447.08,143.67 448.75,144.50 C450.42,145.33 449.58,144.42 451.25,145.00 C452.92,145.58 452.17,145.75 453.75,146.25 C455.33,146.75 454.58,145.67 456.00,146.50 C457.42,147.33 456.75,147.17 458.00,148.75 C459.25,150.33 458.58,150.83 459.75,151.25 C460.92,151.67 460.25,150.83 461.50,150.00 C462.75,149.17 462.17,149.58 463.50,148.75 C464.83,147.92 464.25,147.50 465.50,147.50 C466.75,147.50 466.08,147.92 467.25,148.75 C468.42,149.58 467.75,148.75 469.00,150.00 C470.25,151.25 469.67,152.92 471.00,152.50 C472.33,152.08 471.75,150.58 473.00,148.75 C474.25,146.92 473.33,147.25 474.75,147.00 C476.17,146.75 475.58,147.83 477.25,148.00 C478.92,148.17 478.08,147.50 479.75,147.50 C481.42,147.50 480.58,148.00 482.25,148.00 C483.92,148.00 483.33,148.25 484.75,147.50 C486.17,146.75 485.42,146.17 486.50,145.75 C487.58,145.33 486.92,145.25 488.00,146.25 C489.08,147.25 488.58,146.50 489.75,148.75 C490.92,151.00 490.25,152.17 491.50,153.00 C492.75,153.83 492.17,152.67 493.50,151.25 C494.83,149.83 494.25,150.83 495.50,148.75 C496.75,146.67 495.83,147.08 497.25,145.00 C498.67,142.92 498.08,144.00 499.75,142.50 C501.42,141.00 500.58,141.50 502.25,140.50 C503.92,139.50 503.08,140.50 504.75,139.50 C506.42,138.50 505.83,137.75 507.25,137.50 C508.67,137.25 507.75,137.50 509.00,138.75 C510.25,140.00 509.50,139.58 511.00,141.25 C512.50,142.92 512.00,142.08 513.50,143.75 C515.00,145.42 514.23,145.00 515.50,146.25 C516.77,147.50 516.13,145.15 517.30,147.50 C518.47,149.85 517.93,143.97 519.00,153.30 C520.07,162.63 519.50,175.50 520.50,175.50 C521.50,175.50 520.73,162.37 522.00,153.30 C523.27,144.23 522.40,148.83 524.30,148.30 C526.20,147.77 525.80,151.13 527.70,151.70 C529.60,152.27 528.33,149.47 530.00,150.00 C531.67,150.53 530.93,150.53 532.70,153.30 C534.47,156.07 533.97,154.40 535.30,158.30 C536.63,162.20 535.37,164.43 536.70,165.00 C538.03,165.57 537.53,163.90 539.30,160.00 C541.07,156.10 540.30,156.97 542.00,153.30 C543.70,149.63 543.60,150.43 544.40,149.00" fill="none" stroke="#ff00ff" stroke-width="1.05" stroke-linejoin="round"/>
<rect x="60.4" y="160.3" width="183.8" height="28.2" fill="#fff" stroke="#262626" stroke-width="1"/>
<line x1="63.8" y1="168.1" x2="103.8" y2="168.1" stroke="#ff0000" stroke-width="1"/>
<line x1="63.8" y1="182.3" x2="103.8" y2="182.3" stroke="#00ff00" stroke-width="1"/>
<line x1="146.7" y1="168.1" x2="186.7" y2="168.1" stroke="#000" stroke-width="1"/>
<line x1="146.7" y1="182.5" x2="186.7" y2="182.5" stroke="#ff00ff" stroke-width="1"/>
<text x="108.3" y="171.8" class="t">FF_HH</text>
<text x="108.3" y="186.6" class="t">NF2FF</text>
<text x="191.8" y="171.8" class="t">Correction</text>
<text x="193.0" y="186.6" class="t">Error</text>
<rect x="444.3" y="7.5" width="100.1" height="60.6" fill="#fff" stroke="#262626" stroke-width="1"/>
<line x1="448.3" y1="16.4" x2="488.5" y2="16.4" stroke="#ff0000" stroke-width="1"/>
<text x="495.5" y="20.8" class="t">FF_HH</text>
<line x1="448.3" y1="30.8" x2="488.5" y2="30.8" stroke="#00ff00" stroke-width="1"/>
<text x="495.5" y="35.2" class="t">NF2FF</text>
<line x1="448.3" y1="45.2" x2="488.5" y2="45.2" stroke="#000" stroke-width="1"/>
<text x="493" y="49.6" class="t">Correction</text>
<line x1="448.3" y1="59.6" x2="488.5" y2="59.6" stroke="#ff00ff" stroke-width="1"/>
<text x="495.5" y="64.0" class="t">Error</text>
<rect x="36.2" y="7.3" width="234.50" height="181.20" class="ax" fill="none"/>
<rect x="309.6" y="7.5" width="234.80" height="181.00" class="ax" fill="none"/>
<line x1="36.20" y1="188.5" x2="36.20" y2="185.9" class="ax"/>
<line x1="36.20" y1="7.3" x2="36.20" y2="9.9" class="ax"/>
<text x="38.20" y="201.90" class="t" text-anchor="middle">0</text>
<line x1="101.34" y1="188.5" x2="101.34" y2="185.9" class="ax"/>
<line x1="101.34" y1="7.3" x2="101.34" y2="9.9" class="ax"/>
<text x="102.34" y="201.90" class="t" text-anchor="middle">100</text>
<line x1="166.48" y1="188.5" x2="166.48" y2="185.9" class="ax"/>
<line x1="166.48" y1="7.3" x2="166.48" y2="9.9" class="ax"/>
<text x="167.48" y="201.90" class="t" text-anchor="middle">200</text>
<line x1="231.62" y1="188.5" x2="231.62" y2="185.9" class="ax"/>
<line x1="231.62" y1="7.3" x2="231.62" y2="9.9" class="ax"/>
<text x="232.62" y="201.90" class="t" text-anchor="middle">300</text>
<line x1="36.2" y1="27.43" x2="38.800000000000004" y2="27.43" class="ax"/>
<line x1="270.7" y1="27.43" x2="268.09999999999997" y2="27.43" class="ax"/>
<text x="34.20" y="31.43" class="t" text-anchor="end">0</text>
<line x1="36.2" y1="67.70" x2="38.800000000000004" y2="67.70" class="ax"/>
<line x1="270.7" y1="67.70" x2="268.09999999999997" y2="67.70" class="ax"/>
<text x="34.20" y="71.70" class="t" text-anchor="end">-20</text>
<line x1="36.2" y1="107.97" x2="38.800000000000004" y2="107.97" class="ax"/>
<line x1="270.7" y1="107.97" x2="268.09999999999997" y2="107.97" class="ax"/>
<text x="34.20" y="111.97" class="t" text-anchor="end">-40</text>
<line x1="36.2" y1="148.23" x2="38.800000000000004" y2="148.23" class="ax"/>
<line x1="270.7" y1="148.23" x2="268.09999999999997" y2="148.23" class="ax"/>
<text x="34.20" y="152.23" class="t" text-anchor="end">-60</text>
<line x1="36.2" y1="188.50" x2="38.800000000000004" y2="188.50" class="ax"/>
<line x1="270.7" y1="188.50" x2="268.09999999999997" y2="188.50" class="ax"/>
<text x="34.20" y="192.50" class="t" text-anchor="end">-80</text>
<text x="158.90" y="215.50" class="t" text-anchor="middle">Azimuth(<tspan dx="0.6">°</tspan><tspan dx="0.6">)</tspan></text>
<text transform="translate(13.5,96.4) rotate(-90)" class="t" text-anchor="middle">E-Field(dBV/m)</text>
<text x="164" y="233" class="cap" text-anchor="middle">(a)</text>
<line x1="309.60" y1="188.5" x2="309.60" y2="185.9" class="ax"/>
<line x1="309.60" y1="7.5" x2="309.60" y2="10.1" class="ax"/>
<text x="311.60" y="201.90" class="t" text-anchor="middle">0</text>
<line x1="374.82" y1="188.5" x2="374.82" y2="185.9" class="ax"/>
<line x1="374.82" y1="7.5" x2="374.82" y2="10.1" class="ax"/>
<text x="375.82" y="201.90" class="t" text-anchor="middle">100</text>
<line x1="440.04" y1="188.5" x2="440.04" y2="185.9" class="ax"/>
<line x1="440.04" y1="7.5" x2="440.04" y2="10.1" class="ax"/>
<text x="441.04" y="201.90" class="t" text-anchor="middle">200</text>
<line x1="505.27" y1="188.5" x2="505.27" y2="185.9" class="ax"/>
<line x1="505.27" y1="7.5" x2="505.27" y2="10.1" class="ax"/>
<text x="506.27" y="201.90" class="t" text-anchor="middle">300</text>
<line x1="309.6" y1="7.50" x2="312.20000000000005" y2="7.50" class="ax"/>
<line x1="544.4" y1="7.50" x2="541.8" y2="7.50" class="ax"/>
<text x="307.60" y="11.50" class="t" text-anchor="end">40</text>
<line x1="309.6" y1="37.67" x2="312.20000000000005" y2="37.67" class="ax"/>
<line x1="544.4" y1="37.67" x2="541.8" y2="37.67" class="ax"/>
<text x="307.60" y="41.67" class="t" text-anchor="end">20</text>
<line x1="309.6" y1="67.83" x2="312.20000000000005" y2="67.83" class="ax"/>
<line x1="544.4" y1="67.83" x2="541.8" y2="67.83" class="ax"/>
<text x="307.60" y="71.83" class="t" text-anchor="end">0</text>
<line x1="309.6" y1="98.00" x2="312.20000000000005" y2="98.00" class="ax"/>
<line x1="544.4" y1="98.00" x2="541.8" y2="98.00" class="ax"/>
<text x="307.60" y="102.00" class="t" text-anchor="end">-20</text>
<line x1="309.6" y1="128.17" x2="312.20000000000005" y2="128.17" class="ax"/>
<line x1="544.4" y1="128.17" x2="541.8" y2="128.17" class="ax"/>
<text x="307.60" y="132.17" class="t" text-anchor="end">-40</text>
<line x1="309.6" y1="158.33" x2="312.20000000000005" y2="158.33" class="ax"/>
<line x1="544.4" y1="158.33" x2="541.8" y2="158.33" class="ax"/>
<text x="307.60" y="162.33" class="t" text-anchor="end">-60</text>
<line x1="309.6" y1="188.50" x2="312.20000000000005" y2="188.50" class="ax"/>
<line x1="544.4" y1="188.50" x2="541.8" y2="188.50" class="ax"/>
<text x="307.60" y="192.50" class="t" text-anchor="end">-80</text>
<text x="428.70" y="215.50" class="t" text-anchor="middle">Azimuth(<tspan dx="0.6">°</tspan><tspan dx="0.6">)</tspan></text>
<text transform="translate(288.5,93.5) rotate(-90)" class="t" text-anchor="middle">RCS(dBsm)</text>
<text x="440.3" y="233" class="cap" text-anchor="middle">(b)</text>
</svg>
</body></html>
